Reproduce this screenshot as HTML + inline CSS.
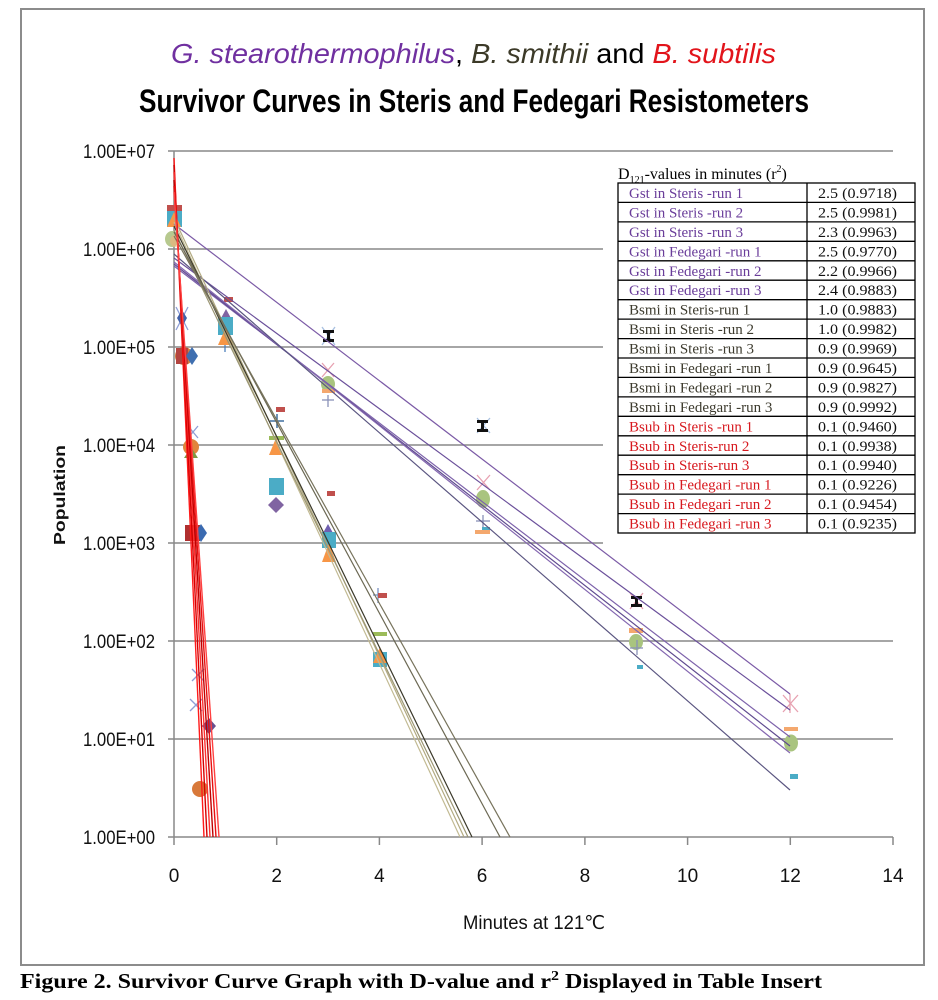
<!DOCTYPE html>
<html><head><meta charset="utf-8"><style>
html,body{margin:0;padding:0;background:#fff;}
svg{display:block;}
</style></head><body>
<svg width="938" height="1000" viewBox="0 0 938 1000" xmlns="http://www.w3.org/2000/svg" font-family="'Liberation Sans', 'DejaVu Sans', sans-serif">
<rect width="938" height="1000" fill="#fff"/>
<rect x="21" y="9" width="903" height="956" fill="none" stroke="#8c8c8c" stroke-width="2"/>

<!-- Titles -->
<text x="171" y="63" font-size="28" textLength="605" lengthAdjust="spacingAndGlyphs"><tspan fill="#7030a0" font-style="italic">G. stearothermophilus</tspan><tspan fill="#000">, </tspan><tspan fill="#3c3a28" font-style="italic">B. smithii</tspan><tspan fill="#000"> and </tspan><tspan fill="#e2141b" font-style="italic">B. subtilis</tspan></text>
<text x="139" y="112" font-size="32" font-weight="bold" fill="#000" textLength="670" lengthAdjust="spacingAndGlyphs">Survivor Curves in Steris and Fedegari Resistometers</text>

<!-- Gridlines -->
<g stroke="#888" stroke-width="1.5">
<line x1="174" y1="151" x2="893" y2="151"/>
<line x1="174" y1="249" x2="893" y2="249"/>
<line x1="174" y1="347" x2="893" y2="347"/>
<line x1="174" y1="445" x2="893" y2="445"/>
<line x1="174" y1="543" x2="893" y2="543"/>
<line x1="174" y1="641" x2="893" y2="641"/>
<line x1="174" y1="739" x2="893" y2="739"/>
<line x1="174" y1="837" x2="893" y2="837"/>
<!-- y ticks -->
<line x1="168" y1="151" x2="174" y2="151"/>
<line x1="168" y1="249" x2="174" y2="249"/>
<line x1="168" y1="347" x2="174" y2="347"/>
<line x1="168" y1="445" x2="174" y2="445"/>
<line x1="168" y1="543" x2="174" y2="543"/>
<line x1="168" y1="641" x2="174" y2="641"/>
<line x1="168" y1="739" x2="174" y2="739"/>
<line x1="168" y1="837" x2="174" y2="837"/>
<!-- axis -->
<line x1="174" y1="151" x2="174" y2="837"/>
<!-- x ticks -->
<line x1="174" y1="837" x2="174" y2="845"/>
<line x1="276.7" y1="837" x2="276.7" y2="845"/>
<line x1="379.4" y1="837" x2="379.4" y2="845"/>
<line x1="482.1" y1="837" x2="482.1" y2="845"/>
<line x1="584.9" y1="837" x2="584.9" y2="845"/>
<line x1="687.6" y1="837" x2="687.6" y2="845"/>
<line x1="790.3" y1="837" x2="790.3" y2="845"/>
<line x1="893" y1="837" x2="893" y2="845"/>
</g>

<!-- Y labels -->
<g font-size="19" fill="#111" text-anchor="end">
<text x="155" y="158" textLength="72" lengthAdjust="spacingAndGlyphs">1.00E+07</text>
<text x="155" y="256" textLength="72" lengthAdjust="spacingAndGlyphs">1.00E+06</text>
<text x="155" y="354" textLength="72" lengthAdjust="spacingAndGlyphs">1.00E+05</text>
<text x="155" y="452" textLength="72" lengthAdjust="spacingAndGlyphs">1.00E+04</text>
<text x="155" y="550" textLength="72" lengthAdjust="spacingAndGlyphs">1.00E+03</text>
<text x="155" y="648" textLength="72" lengthAdjust="spacingAndGlyphs">1.00E+02</text>
<text x="155" y="746" textLength="72" lengthAdjust="spacingAndGlyphs">1.00E+01</text>
<text x="155" y="844" textLength="72" lengthAdjust="spacingAndGlyphs">1.00E+00</text>
</g>
<!-- X labels -->
<g font-size="19" fill="#111" text-anchor="middle">
<text x="174" y="882">0</text>
<text x="276.7" y="882">2</text>
<text x="379.4" y="882">4</text>
<text x="482.1" y="882">6</text>
<text x="584.9" y="882">8</text>
<text x="687.6" y="882">10</text>
<text x="790.3" y="882">12</text>
<text x="893" y="882">14</text>
</g>
<text x="534" y="929" text-anchor="middle" font-size="19" fill="#111" textLength="142" lengthAdjust="spacingAndGlyphs">Minutes at 121℃</text>
<text transform="translate(65,495) rotate(-90)" text-anchor="middle" font-size="16" font-weight="bold" fill="#111" textLength="100" lengthAdjust="spacingAndGlyphs">Population</text>

<!-- Markers -->
<g>
<!-- x=0 -->
<rect x="167" y="205" width="15" height="15" fill="#c0504d"/>
<rect x="167" y="211" width="15" height="16" fill="#4bacc6"/>
<polygon points="174,212 167,227 181,227" fill="#f79646"/>
<ellipse cx="172" cy="239" rx="7" ry="8" fill="#b7c98f"/>
<ellipse cx="175" cy="241" rx="5" ry="6" fill="#f2b07a" opacity="0.6"/>
<!-- Bsub points -->
<g stroke="#8e9ed6" stroke-width="1.3">
<line x1="176" y1="307" x2="188" y2="330"/><line x1="188" y1="307" x2="176" y2="330"/>
<line x1="188" y1="426" x2="198" y2="438"/><line x1="198" y1="426" x2="188" y2="438"/>
<line x1="192" y1="669" x2="204" y2="681"/><line x1="204" y1="669" x2="192" y2="681"/>
<line x1="190" y1="699" x2="202" y2="711"/><line x1="202" y1="699" x2="190" y2="711"/>
</g>
<polygon points="182,310 187,318 182,327 177,318" fill="#4060a8"/>
<ellipse cx="184" cy="356" rx="9" ry="9" fill="#d07a3c"/>
<rect x="176" y="348" width="12" height="16" fill="#b3443f"/>
<polygon points="192,347 198,356 192,365 186,356" fill="#3f6fb0"/>
<circle cx="191" cy="447" r="8" fill="#e0853c"/>
<polygon points="191,447 184,458 198,458" fill="#7b9a44"/>
<rect x="185" y="525" width="15" height="16" fill="#b02f2f"/>
<polygon points="201,524 207,533 201,542 195,533" fill="#3a6ab0"/>
<polygon points="209,718 216,726 209,734 202,726" fill="#6a4f8e"/>
<circle cx="200" cy="789" r="8" fill="#d8793a"/>
<!-- x=1 -->
<rect x="224" y="297" width="9" height="5" fill="#c0504d"/>
<polygon points="226,309 220,320 232,320" fill="#8064a2"/>
<rect x="218" y="317" width="15" height="18" fill="#4bacc6"/>
<polygon points="226,327 218,345 233,345" fill="#f79646"/>
<line x1="225" y1="345" x2="225" y2="352" stroke="#4f81bd" stroke-width="1.3"/>
<!-- x=2 -->
<rect x="276" y="407" width="9" height="5" fill="#c0504d"/>
<line x1="270" y1="421" x2="284" y2="421" stroke="#3f6fa0" stroke-width="1.5"/>
<line x1="277" y1="414" x2="277" y2="428" stroke="#3f6fa0" stroke-width="1.5"/>
<rect x="269" y="436" width="15" height="4" fill="#9bbb59"/>
<polygon points="276,438 269,455 283,455" fill="#f79646"/>
<rect x="269" y="478" width="15" height="17" fill="#4bacc6"/>
<polygon points="276,497 284,505 276,513 268,505" fill="#8064a2"/>
<!-- x=3 -->
<rect x="327" y="491" width="8" height="5" fill="#c0504d"/>
<polygon points="328,524 323,533 333,533" fill="#6f5fb0"/>
<rect x="322" y="532" width="14" height="16" fill="#4bacc6"/>
<polygon points="329,543 322,562 336,562" fill="#f79646"/>
<ellipse cx="328" cy="384" rx="7" ry="8" fill="#a9c47f"/>
<rect x="322" y="389" width="13" height="4" fill="#f4a86e"/>
<line x1="322" y1="400" x2="334" y2="400" stroke="#8a92b8" stroke-width="1.3"/>
<line x1="328" y1="395" x2="328" y2="407" stroke="#8a92b8" stroke-width="1.3"/>
<g stroke="#e7a0b0" stroke-width="1.3">
<line x1="322" y1="363" x2="334" y2="377"/><line x1="334" y1="363" x2="322" y2="377"/>
<line x1="477" y1="475" x2="490" y2="490"/><line x1="490" y1="475" x2="477" y2="490"/>
<line x1="630" y1="593" x2="643" y2="609"/><line x1="643" y1="593" x2="630" y2="609"/>
<line x1="783" y1="695" x2="798" y2="712"/><line x1="798" y1="695" x2="783" y2="712"/>
<line x1="790" y1="694" x2="790" y2="713"/>
</g>
<g stroke="#a8c0e0" stroke-width="1.3">
<line x1="322" y1="327" x2="335" y2="345"/><line x1="335" y1="327" x2="322" y2="345"/>
<line x1="477" y1="418" x2="490" y2="433"/><line x1="490" y1="418" x2="477" y2="433"/>
</g>
<g fill="#111">
<rect x="323" y="330" width="11" height="3"/><rect x="323" y="339" width="11" height="3"/><rect x="327" y="330" width="3" height="12"/>
<rect x="477" y="420" width="11" height="3"/><rect x="477" y="429" width="11" height="3"/><rect x="481" y="420" width="3" height="12"/>
<rect x="631" y="596" width="11" height="3"/><rect x="631" y="604" width="11" height="3"/><rect x="635" y="596" width="3" height="11"/>
</g>
<!-- x=4 -->
<line x1="373" y1="595" x2="383" y2="595" stroke="#7890c0" stroke-width="1.3"/>
<line x1="378" y1="588" x2="378" y2="603" stroke="#7890c0" stroke-width="1.3"/>
<rect x="378" y="593" width="9" height="5" fill="#c0504d"/>
<rect x="373" y="632" width="14" height="4" fill="#9bbb59"/>
<rect x="373" y="652" width="14" height="15" fill="#4bacc6"/>
<polygon points="380,647 373,663 387,663" fill="#f79646"/>
<!-- x=6 -->
<ellipse cx="483" cy="499" rx="7" ry="9" fill="#a9c47f"/>
<line x1="476" y1="521" x2="490" y2="521" stroke="#8a92b8" stroke-width="1.3"/>
<line x1="483" y1="515" x2="483" y2="528" stroke="#8a92b8" stroke-width="1.3"/>
<rect x="482" y="527" width="8" height="3" fill="#4bacc6"/>
<rect x="475" y="530" width="15" height="4" fill="#f4a86e"/>
<!-- x=9 -->
<rect x="629" y="628" width="14" height="5" fill="#f4a86e"/>
<ellipse cx="636" cy="642" rx="7" ry="8" fill="#a9c47f"/>
<line x1="630" y1="648" x2="643" y2="648" stroke="#8a92b8" stroke-width="1.3"/>
<line x1="637" y1="640" x2="637" y2="655" stroke="#8a92b8" stroke-width="1.3"/>
<rect x="637" y="665" width="6" height="4" fill="#4bacc6"/>
<!-- x=12 -->
<rect x="784" y="727" width="14" height="4" fill="#f4a86e"/>
<ellipse cx="791" cy="743" rx="7" ry="8.5" fill="#a9c47f"/>
<rect x="790" y="774" width="8" height="5" fill="#4bacc6"/>
</g>

<!-- Trendlines -->
<g stroke-width="1.2" fill="none">
<line x1="174" y1="224" x2="790" y2="694" stroke="#7b5aa6"/>
<line x1="174" y1="258" x2="790" y2="710" stroke="#6a4f9a"/>
<line x1="174" y1="266" x2="790" y2="737" stroke="#7d62ab"/>
<line x1="174" y1="264" x2="790" y2="746" stroke="#5f4a8f"/>
<line x1="174" y1="262" x2="790" y2="753" stroke="#8467b0"/>
<line x1="174" y1="254" x2="790" y2="790" stroke="#5a5580"/>

<line x1="174" y1="222" x2="460" y2="837" stroke="#c2ba93"/>
<line x1="174" y1="218" x2="464" y2="837" stroke="#b3ab82"/>
<line x1="174" y1="226" x2="472" y2="837" stroke="#3a3829"/>
<line x1="174" y1="230" x2="468" y2="837" stroke="#9b9674"/>
<line x1="174" y1="232" x2="500" y2="837" stroke="#6b6853"/>
<line x1="174" y1="236" x2="510" y2="837" stroke="#77735c"/>

<line x1="174" y1="158" x2="204" y2="837" stroke="#ff1a1a" stroke-width="1.4"/>
<line x1="174" y1="165" x2="207" y2="837" stroke="#d40000" stroke-width="1.4"/>
<line x1="174" y1="172" x2="210" y2="837" stroke="#ff3030" stroke-width="1.4"/>
<line x1="174" y1="180" x2="213" y2="837" stroke="#c00000" stroke-width="1.4"/>
<line x1="174" y1="186" x2="216" y2="837" stroke="#e81010" stroke-width="1.4"/>
<line x1="174" y1="192" x2="219" y2="837" stroke="#ff4040" stroke-width="1.4"/>
</g>

<!-- Table insert -->
<rect x="603" y="154" width="318" height="392" fill="#fff"/>
<text x="618" y="179" font-family="'Liberation Serif', serif" font-size="16" fill="#000">D<tspan font-size="10" dy="4">121</tspan><tspan dy="-4">-values in minutes (r</tspan><tspan font-size="10" dy="-7">2</tspan><tspan dy="7">)</tspan></text>
<g stroke="#000" stroke-width="1.3">
<rect x="618" y="183" width="297" height="350" fill="none"/>
<line x1="807" y1="183" x2="807" y2="533"/>
<line x1="618" y1="202.4" x2="915" y2="202.4"/>
<line x1="618" y1="221.9" x2="915" y2="221.9"/>
<line x1="618" y1="241.3" x2="915" y2="241.3"/>
<line x1="618" y1="260.8" x2="915" y2="260.8"/>
<line x1="618" y1="280.2" x2="915" y2="280.2"/>
<line x1="618" y1="299.7" x2="915" y2="299.7"/>
<line x1="618" y1="319.1" x2="915" y2="319.1"/>
<line x1="618" y1="338.6" x2="915" y2="338.6"/>
<line x1="618" y1="358" x2="915" y2="358"/>
<line x1="618" y1="377.4" x2="915" y2="377.4"/>
<line x1="618" y1="396.9" x2="915" y2="396.9"/>
<line x1="618" y1="416.3" x2="915" y2="416.3"/>
<line x1="618" y1="435.8" x2="915" y2="435.8"/>
<line x1="618" y1="455.2" x2="915" y2="455.2"/>
<line x1="618" y1="474.7" x2="915" y2="474.7"/>
<line x1="618" y1="494.1" x2="915" y2="494.1"/>
<line x1="618" y1="513.6" x2="915" y2="513.6"/>
</g>
<g font-family="'Liberation Serif', serif" font-size="15">
<g fill="#6a3d9a">
<text x="629" y="198">Gst in Steris -run 1</text>
<text x="629" y="217.4">Gst in Steris -run 2</text>
<text x="629" y="236.9">Gst in Steris -run 3</text>
<text x="629" y="256.3">Gst in Fedegari -run 1</text>
<text x="629" y="275.8">Gst in Fedegari -run 2</text>
<text x="629" y="295.2">Gst in Fedegari -run 3</text>
</g>
<g fill="#3d3b2e">
<text x="629" y="314.7">Bsmi in Steris-run 1</text>
<text x="629" y="334.1">Bsmi in Steris -run 2</text>
<text x="629" y="353.6">Bsmi in Steris -run 3</text>
<text x="629" y="373">Bsmi in Fedegari -run 1</text>
<text x="629" y="392.4">Bsmi in Fedegari -run 2</text>
<text x="629" y="411.9">Bsmi in Fedegari -run 3</text>
</g>
<g fill="#d7191f">
<text x="629" y="431.3">Bsub in Steris -run 1</text>
<text x="629" y="450.8">Bsub in Steris-run 2</text>
<text x="629" y="470.2">Bsub in Steris-run 3</text>
<text x="629" y="489.7">Bsub in Fedegari -run 1</text>
<text x="629" y="509.1">Bsub in Fedegari -run 2</text>
<text x="629" y="528.6">Bsub in Fedegari -run 3</text>
</g>
<g fill="#111">
<text x="818" y="198" textLength="79" lengthAdjust="spacingAndGlyphs">2.5 (0.9718)</text>
<text x="818" y="217.4" textLength="79" lengthAdjust="spacingAndGlyphs">2.5 (0.9981)</text>
<text x="818" y="236.9" textLength="79" lengthAdjust="spacingAndGlyphs">2.3 (0.9963)</text>
<text x="818" y="256.3" textLength="79" lengthAdjust="spacingAndGlyphs">2.5 (0.9770)</text>
<text x="818" y="275.8" textLength="79" lengthAdjust="spacingAndGlyphs">2.2 (0.9966)</text>
<text x="818" y="295.2" textLength="79" lengthAdjust="spacingAndGlyphs">2.4 (0.9883)</text>
<text x="818" y="314.7" textLength="79" lengthAdjust="spacingAndGlyphs">1.0 (0.9883)</text>
<text x="818" y="334.1" textLength="79" lengthAdjust="spacingAndGlyphs">1.0 (0.9982)</text>
<text x="818" y="353.6" textLength="79" lengthAdjust="spacingAndGlyphs">0.9 (0.9969)</text>
<text x="818" y="373" textLength="79" lengthAdjust="spacingAndGlyphs">0.9 (0.9645)</text>
<text x="818" y="392.4" textLength="79" lengthAdjust="spacingAndGlyphs">0.9 (0.9827)</text>
<text x="818" y="411.9" textLength="79" lengthAdjust="spacingAndGlyphs">0.9 (0.9992)</text>
<text x="818" y="431.3" textLength="79" lengthAdjust="spacingAndGlyphs">0.1 (0.9460)</text>
<text x="818" y="450.8" textLength="79" lengthAdjust="spacingAndGlyphs">0.1 (0.9938)</text>
<text x="818" y="470.2" textLength="79" lengthAdjust="spacingAndGlyphs">0.1 (0.9940)</text>
<text x="818" y="489.7" textLength="79" lengthAdjust="spacingAndGlyphs">0.1 (0.9226)</text>
<text x="818" y="509.1" textLength="79" lengthAdjust="spacingAndGlyphs">0.1 (0.9454)</text>
<text x="818" y="528.6" textLength="79" lengthAdjust="spacingAndGlyphs">0.1 (0.9235)</text>
</g>
</g>

<!-- Caption -->
<text x="20" y="988" font-family="'Liberation Serif', serif" font-weight="bold" font-size="21" fill="#000" textLength="802" lengthAdjust="spacingAndGlyphs">Figure 2. Survivor Curve Graph with D-value and r<tspan dy="-8" font-size="14">2</tspan><tspan dy="8"> Displayed in Table Insert</tspan></text>
</svg>
</body></html>
